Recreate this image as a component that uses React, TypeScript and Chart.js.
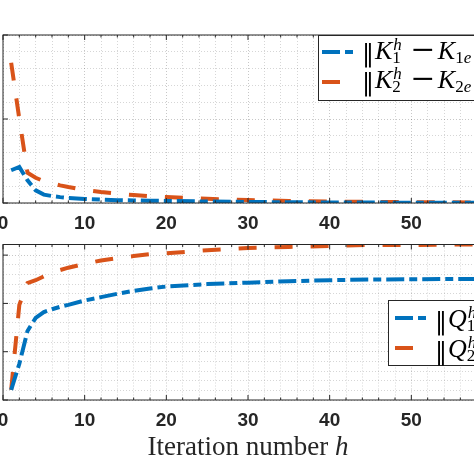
import { useEffect, useRef } from "react";
import { Chart, registerables } from "chart.js";
Chart.register(...registerables);

// ---------------- data ----------------
const iterations = [1, 2, 3, 4, 5, 6, 7, 8, 10, 12, 14, 16, 18, 20, 25, 30, 35, 40, 45, 50, 55, 60];
const k1Error = [0.39, 0.43, 0.27, 0.15, 0.1, 0.083, 0.07, 0.06, 0.048, 0.04, 0.034, 0.03, 0.027, 0.024, 0.018, 0.012, 0.009, 0.006, 0.005, 0.004, 0.003, 0.003];
const k2Error = [1.67, 1.0, 0.36, 0.3, 0.26, 0.235, 0.21, 0.19, 0.155, 0.13, 0.11, 0.095, 0.082, 0.07, 0.05, 0.035, 0.025, 0.018, 0.013, 0.01, 0.008, 0.006];
const q1Norm = [0.21, 0.75, 1.43, 1.7, 1.82, 1.88, 1.93, 1.97, 2.06, 2.13, 2.2, 2.26, 2.31, 2.35, 2.4, 2.43, 2.46, 2.48, 2.495, 2.5, 2.505, 2.505];
const q2Norm = [0.21, 1.97, 2.42, 2.48, 2.56, 2.63, 2.69, 2.74, 2.82, 2.89, 2.94, 2.98, 3.02, 3.04, 3.1, 3.15, 3.17, 3.19, 3.21, 3.21, 3.22, 3.22];

const xMajorTicks = [0, 10, 20, 30, 40, 50, 60];
const xTickLabels = ["0", "10", "20", "30", "40", "50", "60"];
const topYMajorTicks = [0, 1, 2];
const botYMajorTicks = [0, 1, 2, 3];

const legendTop = [
  { label: ["‖", { b: "K", sup: "h", sub: "1" }, "−", { b: "K", sub: "1e" }, "‖"], series: "k1" },
  { label: ["‖", { b: "K", sup: "h", sub: "2" }, "−", { b: "K", sub: "2e" }, "‖"], series: "k2" },
];
const legendBot = [
  { label: ["‖", { b: "Q", sup: "h", sub: "1" }, "‖"], series: "q1" },
  { label: ["‖", { b: "Q", sup: "h", sub: "2" }, "‖"], series: "q2" },
];
const xTitle = [
  { t: "Iteration number ", it: false },
  { t: "h", it: true },
];

// ---------------- styles ----------------
const BLUE = "#0072BD";
const ORANGE = "#D95319";
const AXIS = "#262626";
const DASH_DOT = [18, 5, 8, 5];
const DASH = [18, 18];
const SERIF = "'Liberation Serif', 'DejaVu Serif', serif";

const styleOf: Record<string, { color: string; dash: number[] }> = {
  k1: { color: BLUE, dash: DASH_DOT },
  k2: { color: ORANGE, dash: DASH },
  q1: { color: BLUE, dash: DASH_DOT },
  q2: { color: ORANGE, dash: DASH },
};

type Tok = string | { b: string; sup?: string; sub?: string };

function drawChars(ctx: CanvasRenderingContext2D, s: string, x: number, y: number, size: number) {
  for (const ch of s) {
    const it = /[A-Za-z]/.test(ch);
    ctx.font = `${it ? "italic " : ""}${size}px ${SERIF}`;
    ctx.fillText(ch, x, y);
    x += ctx.measureText(ch).width;
  }
  return x;
}

function drawMath(ctx: CanvasRenderingContext2D, toks: Tok[], x: number, y: number) {
  const big = 26;
  const small = 17;
  ctx.fillStyle = "#000";
  ctx.textBaseline = "alphabetic";
  ctx.textAlign = "left";
  for (const tk of toks) {
    if (typeof tk === "string") {
      if (tk === "‖") {
        ctx.font = `24px 'DejaVu Serif', serif`;
        ctx.fillText(tk, x, y + 2);
        x += ctx.measureText(tk).width + 1;
      } else if (tk === "−") {
        x += 9;
        ctx.save();
        ctx.font = `26px 'DejaVu Sans', sans-serif`;
        ctx.textAlign = "center";
        ctx.translate(x + 11, y - 1);
        ctx.scale(1.15, 1);
        ctx.fillText(tk, 0, 0);
        ctx.restore();
        ctx.textAlign = "left";
        x += 26;
      } else {
        x = drawChars(ctx, tk, x, y, big);
      }
    } else {
      x = drawChars(ctx, tk.b, x, y, big);
      let x1 = x;
      let x2 = x;
      if (tk.sup) x1 = drawChars(ctx, tk.sup, x + 1, y - 9, small);
      if (tk.sub) x2 = drawChars(ctx, tk.sub, x, y + 4, small);
      x = Math.max(x1, x2) + 1;
    }
  }
}

function makeFrame(yMajors: number[]) {
  return {
    id: "frame",
    afterDatasetsDraw(chart: any) {
      const { ctx, chartArea: a, scales } = chart;
      ctx.save();
      ctx.strokeStyle = AXIS;
      ctx.lineWidth = 1;
      ctx.setLineDash([]);
      ctx.strokeRect(a.left, a.top, a.right - a.left, a.bottom - a.top);
      ctx.beginPath();
      for (let v = scales.x.min; v <= scales.x.max; v += 2) {
        const px = scales.x.getPixelForValue(v);
        const len = xMajorTicks.includes(v) ? 5 : 2.5;
        ctx.moveTo(px, a.bottom);
        ctx.lineTo(px, a.bottom - len);
        ctx.moveTo(px, a.top);
        ctx.lineTo(px, a.top + len);
      }
      for (const v of yMajors) {
        const py = scales.y.getPixelForValue(v);
        ctx.moveTo(a.left, py);
        ctx.lineTo(a.left + 5, py);
      }
      ctx.stroke();
      ctx.restore();
    },
  };
}

function makeLegend(box: { x: number; y: number; w: number; h: number }, entries: any[], sampleY: number[], textBase: number[], sampleX: number, textX: number) {
  return {
    id: "mlegend",
    afterDraw(chart: any) {
      const ctx: CanvasRenderingContext2D = chart.ctx;
      ctx.save();
      ctx.fillStyle = "#fff";
      ctx.fillRect(box.x, box.y, box.w, box.h);
      ctx.strokeStyle = AXIS;
      ctx.lineWidth = 1;
      ctx.setLineDash([]);
      ctx.strokeRect(box.x, box.y, box.w, box.h);
      entries.forEach((e, i) => {
        const st = styleOf[e.series];
        ctx.save();
        ctx.strokeStyle = st.color;
        ctx.lineWidth = 4;
        ctx.setLineDash(st.dash);
        ctx.beginPath();
        ctx.moveTo(sampleX, sampleY[i]);
        ctx.lineTo(sampleX + 33, sampleY[i]);
        ctx.stroke();
        ctx.restore();
        drawMath(ctx, e.label, textX, textBase[i]);
      });
      ctx.restore();
    },
  };
}

const titlePlugin = {
  id: "xtitle",
  afterDraw(chart: any) {
    const ctx: CanvasRenderingContext2D = chart.ctx;
    const a = chart.chartArea;
    ctx.save();
    ctx.fillStyle = "#262626";
    ctx.textBaseline = "alphabetic";
    ctx.textAlign = "left";
    let total = 0;
    for (const p of xTitle) {
      ctx.font = `${p.it ? "italic " : ""}27px ${SERIF}`;
      total += ctx.measureText(p.t).width;
    }
    let x = (a.left + a.right) / 2 - total / 2;
    for (const p of xTitle) {
      ctx.font = `${p.it ? "italic " : ""}27px ${SERIF}`;
      ctx.fillText(p.t, x, 212);
      x += ctx.measureText(p.t).width;
    }
    ctx.restore();
  },
};

function ds(label: string, ys: number[], key: string) {
  const st = styleOf[key];
  return {
    label,
    data: iterations.map((h, i) => ({ x: h, y: ys[i] })),
    borderColor: st.color,
    backgroundColor: st.color,
    borderWidth: 4,
    borderDash: st.dash,
    borderCapStyle: "butt" as const,
    pointRadius: 0,
    tension: 0,
    fill: false,
  };
}

function makeOptions(yMax: number, padTop: number, axisH: number) {
  return {
    responsive: false,
    animation: false as const,
    layout: { padding: { left: 3, right: 7, top: padTop, bottom: 0 } },
    plugins: { legend: { display: false }, tooltip: { enabled: false } },
    scales: {
      x: {
        type: "linear" as const,
        min: 0,
        max: 60,
        afterFit: (ax: any) => {
          ax.height = axisH;
          ax.paddingLeft = 0;
          ax.paddingRight = 0;
        },
        ticks: {
          stepSize: 2,
          autoSkip: false,
          maxRotation: 0,
          minRotation: 0,
          padding: 9,
          color: AXIS,
          font: { family: "'Liberation Sans', Arial, sans-serif", size: 19, weight: "bold" as const },
          callback: (v: any) => {
            const i = xMajorTicks.indexOf(Number(v));
            return i >= 0 ? xTickLabels[i] : "";
          },
        },
        grid: {
          drawTicks: false,
          color: (c: any) => (c.tick && xMajorTicks.includes(c.tick.value) ? "rgba(0,0,0,0.22)" : "rgba(0,0,0,0.16)"),
          lineWidth: 1,
        },
        border: { display: false, dash: [1, 2] },
      },
      y: {
        type: "linear" as const,
        min: 0,
        max: yMax,
        afterFit: (ax: any) => {
          ax.width = 0;
          ax.paddingTop = 0;
          ax.paddingBottom = 0;
        },
        ticks: { display: false, stepSize: 0.2 },
        grid: {
          drawTicks: false,
          color: (c: any) =>
            c.tick && Math.abs(c.tick.value - Math.round(c.tick.value)) < 1e-6 ? "rgba(0,0,0,0.22)" : "rgba(0,0,0,0.16)",
          lineWidth: 1,
        },
        border: { display: false, dash: [1, 2] },
      },
    },
  };
}

export default function App() {
  const topRef = useRef<HTMLCanvasElement>(null);
  const botRef = useRef<HTMLCanvasElement>(null);

  useEffect(() => {
    document.body.style.margin = "0";
    const c1 = new Chart(topRef.current!, {
      type: "line",
      data: { datasets: [ds("K1", k1Error, "k1"), ds("K2", k2Error, "k2")] },
      options: makeOptions(2, 35, 40) as any,
      plugins: [
        makeFrame(topYMajorTicks),
        makeLegend({ x: 318.5, y: 35.5, w: 200, h: 65 }, legendTop, [52, 82], [59, 88], 322, 362),
      ],
    });
    const c2 = new Chart(botRef.current!, {
      type: "line",
      data: { datasets: [ds("Q1", q1Norm, "q1"), ds("Q2", q2Norm, "q2")] },
      options: makeOptions(3.22, 1.5, 74) as any,
      plugins: [
        makeFrame(botYMajorTicks),
        makeLegend({ x: 388.5, y: 57.5, w: 200, h: 65 }, legendBot, [75, 105], [84, 114], 395, 435),
        titlePlugin,
      ],
    });
    return () => {
      c1.destroy();
      c2.destroy();
    };
  }, []);

  return (
    <div style={{ position: "fixed", left: 0, top: 0, width: 474, height: 474, overflow: "hidden", background: "#fff" }}>
      <canvas ref={topRef} width={500} height={243} style={{ position: "absolute", left: 0, top: 0, width: 500, height: 243 }} />
      <canvas ref={botRef} width={500} height={231} style={{ position: "absolute", left: 0, top: 243, width: 500, height: 231 }} />
    </div>
  );
}
